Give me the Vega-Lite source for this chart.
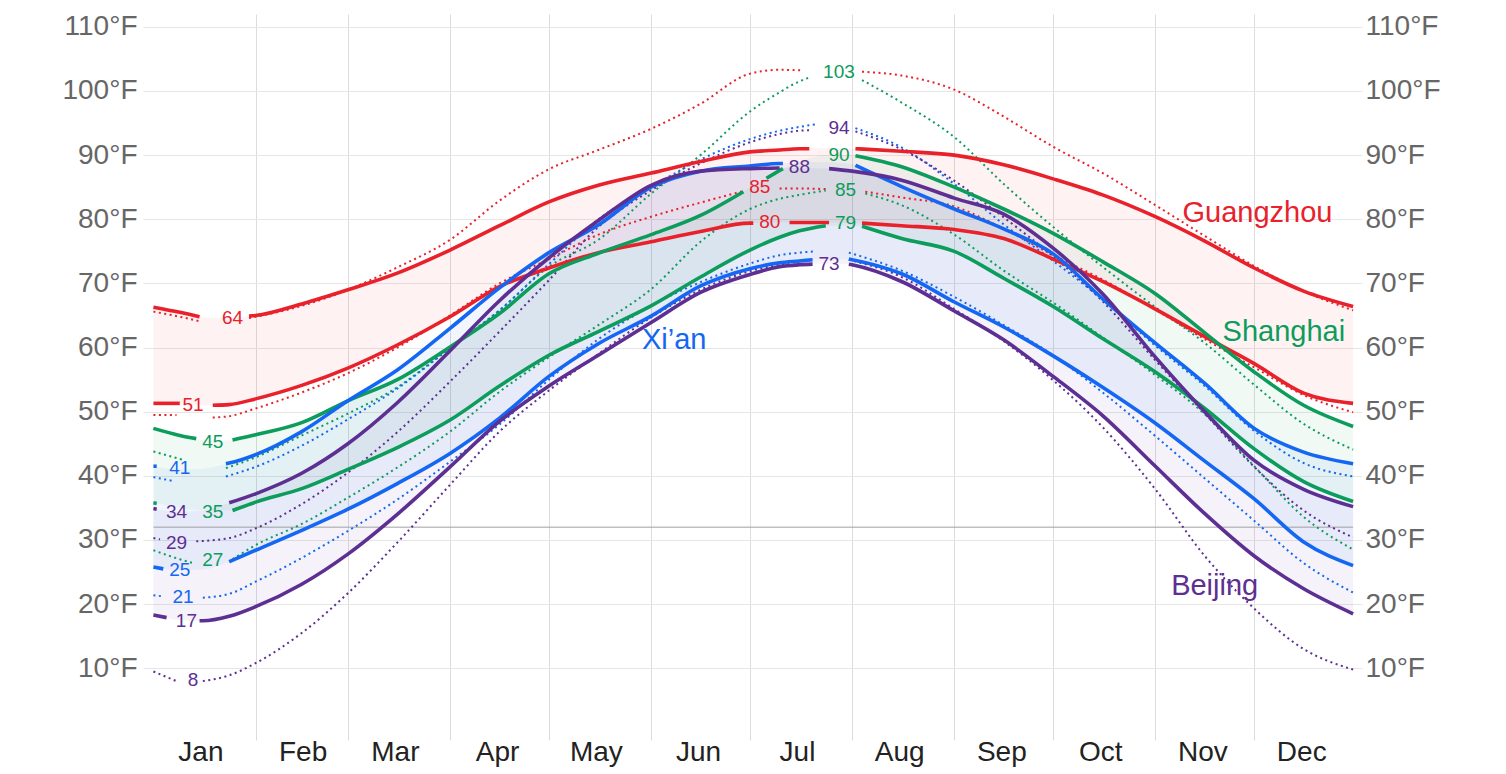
{
  "$schema": "https://vega.github.io/schema/vega-lite/v6.json",
  "width": 1219,
  "height": 726,
  "autosize": {"type": "none"},
  "padding": {"left": 143, "top": 14, "right": 144, "bottom": 34},
  "background": "white",
  "config": {"font": "Liberation Sans", "view": {"stroke": null}},
  "datasets": {
    "temps": [
      {"city":"Guangzhou","kind":"hi","date":"2023-01-01","temp":66.3,"part":1},
      {"city":"Guangzhou","kind":"hi","date":"2023-01-09","temp":65.5,"part":1},
      {"city":"Guangzhou","kind":"hi","date":"2023-01-15","temp":64.8,"part":1},
      {"city":"Guangzhou","kind":"hi","date":"2023-01-16","temp":64.7,"part":0},
      {"city":"Guangzhou","kind":"hi","date":"2023-01-24","temp":64.6,"part":0},
      {"city":"Guangzhou","kind":"hi","date":"2023-01-30","temp":64.9,"part":2},
      {"city":"Guangzhou","kind":"hi","date":"2023-02-01","temp":65.0,"part":2},
      {"city":"Guangzhou","kind":"hi","date":"2023-02-15","temp":66.8,"part":2},
      {"city":"Guangzhou","kind":"hi","date":"2023-03-01","temp":69.0,"part":2},
      {"city":"Guangzhou","kind":"hi","date":"2023-03-16","temp":71.6,"part":2},
      {"city":"Guangzhou","kind":"hi","date":"2023-04-01","temp":75.2,"part":2},
      {"city":"Guangzhou","kind":"hi","date":"2023-04-16","temp":79.0,"part":2},
      {"city":"Guangzhou","kind":"hi","date":"2023-05-01","temp":82.7,"part":2},
      {"city":"Guangzhou","kind":"hi","date":"2023-05-16","temp":85.3,"part":2},
      {"city":"Guangzhou","kind":"hi","date":"2023-06-01","temp":87.2,"part":2},
      {"city":"Guangzhou","kind":"hi","date":"2023-06-16","temp":89.0,"part":2},
      {"city":"Guangzhou","kind":"hi","date":"2023-07-01","temp":90.5,"part":2},
      {"city":"Guangzhou","kind":"hi","date":"2023-07-10","temp":90.8,"part":2},
      {"city":"Guangzhou","kind":"hi","date":"2023-07-16","temp":91.0,"part":2},
      {"city":"Guangzhou","kind":"hi","date":"2023-07-19","temp":91.0,"part":2},
      {"city":"Guangzhou","kind":"hi","date":"2023-07-25","temp":91.1,"part":0},
      {"city":"Guangzhou","kind":"hi","date":"2023-08-01","temp":91.0,"part":0},
      {"city":"Guangzhou","kind":"hi","date":"2023-08-02","temp":91.0,"part":3},
      {"city":"Guangzhou","kind":"hi","date":"2023-08-16","temp":90.6,"part":3},
      {"city":"Guangzhou","kind":"hi","date":"2023-09-01","temp":90.0,"part":3},
      {"city":"Guangzhou","kind":"hi","date":"2023-09-16","temp":88.5,"part":3},
      {"city":"Guangzhou","kind":"hi","date":"2023-10-01","temp":86.3,"part":3},
      {"city":"Guangzhou","kind":"hi","date":"2023-10-16","temp":83.8,"part":3},
      {"city":"Guangzhou","kind":"hi","date":"2023-11-01","temp":80.4,"part":3},
      {"city":"Guangzhou","kind":"hi","date":"2023-11-16","temp":76.6,"part":3},
      {"city":"Guangzhou","kind":"hi","date":"2023-12-01","temp":72.4,"part":3},
      {"city":"Guangzhou","kind":"hi","date":"2023-12-16","temp":68.8,"part":3},
      {"city":"Guangzhou","kind":"hi","date":"2023-12-31","temp":66.4,"part":3},

      {"city":"Guangzhou","kind":"lo","date":"2023-01-01","temp":51.3,"part":1},
      {"city":"Guangzhou","kind":"lo","date":"2023-01-09","temp":51.3,"part":1},
      {"city":"Guangzhou","kind":"lo","date":"2023-01-16","temp":51.0,"part":0},
      {"city":"Guangzhou","kind":"lo","date":"2023-01-19","temp":51.0,"part":2},
      {"city":"Guangzhou","kind":"lo","date":"2023-01-24","temp":51.1,"part":2},
      {"city":"Guangzhou","kind":"lo","date":"2023-02-01","temp":52.0,"part":2},
      {"city":"Guangzhou","kind":"lo","date":"2023-02-15","temp":54.1,"part":2},
      {"city":"Guangzhou","kind":"lo","date":"2023-03-01","temp":56.8,"part":2},
      {"city":"Guangzhou","kind":"lo","date":"2023-03-16","temp":60.4,"part":2},
      {"city":"Guangzhou","kind":"lo","date":"2023-04-01","temp":64.8,"part":2},
      {"city":"Guangzhou","kind":"lo","date":"2023-04-16","temp":69.5,"part":2},
      {"city":"Guangzhou","kind":"lo","date":"2023-05-01","temp":72.4,"part":2},
      {"city":"Guangzhou","kind":"lo","date":"2023-05-16","temp":74.8,"part":2},
      {"city":"Guangzhou","kind":"lo","date":"2023-06-01","temp":76.5,"part":2},
      {"city":"Guangzhou","kind":"lo","date":"2023-06-16","temp":78.1,"part":2},
      {"city":"Guangzhou","kind":"lo","date":"2023-07-01","temp":79.4,"part":2},
      {"city":"Guangzhou","kind":"lo","date":"2023-07-02","temp":79.4,"part":2},
      {"city":"Guangzhou","kind":"lo","date":"2023-07-10","temp":79.5,"part":0},
      {"city":"Guangzhou","kind":"lo","date":"2023-07-13","temp":79.5,"part":3},
      {"city":"Guangzhou","kind":"lo","date":"2023-07-16","temp":79.5,"part":3},
      {"city":"Guangzhou","kind":"lo","date":"2023-07-25","temp":79.5,"part":3},
      {"city":"Guangzhou","kind":"lo","date":"2023-08-01","temp":79.4,"part":0},
      {"city":"Guangzhou","kind":"lo","date":"2023-08-04","temp":79.4,"part":4},
      {"city":"Guangzhou","kind":"lo","date":"2023-08-16","temp":79.0,"part":4},
      {"city":"Guangzhou","kind":"lo","date":"2023-09-01","temp":78.4,"part":4},
      {"city":"Guangzhou","kind":"lo","date":"2023-09-16","temp":77.0,"part":4},
      {"city":"Guangzhou","kind":"lo","date":"2023-10-01","temp":73.8,"part":4},
      {"city":"Guangzhou","kind":"lo","date":"2023-10-16","temp":70.3,"part":4},
      {"city":"Guangzhou","kind":"lo","date":"2023-11-01","temp":66.0,"part":4},
      {"city":"Guangzhou","kind":"lo","date":"2023-11-16","temp":61.7,"part":4},
      {"city":"Guangzhou","kind":"lo","date":"2023-12-01","temp":57.5,"part":4},
      {"city":"Guangzhou","kind":"lo","date":"2023-12-16","temp":52.9,"part":4},
      {"city":"Guangzhou","kind":"lo","date":"2023-12-31","temp":51.3,"part":4},

      {"city":"Guangzhou","kind":"hiF","date":"2023-01-01","temp":65.6,"part":1},
      {"city":"Guangzhou","kind":"hiF","date":"2023-01-09","temp":64.8,"part":1},
      {"city":"Guangzhou","kind":"hiF","date":"2023-01-15","temp":64.1,"part":1},
      {"city":"Guangzhou","kind":"hiF","date":"2023-01-30","temp":64.6,"part":2},
      {"city":"Guangzhou","kind":"hiF","date":"2023-02-01","temp":64.8,"part":2},
      {"city":"Guangzhou","kind":"hiF","date":"2023-02-15","temp":66.5,"part":2},
      {"city":"Guangzhou","kind":"hiF","date":"2023-03-01","temp":69.0,"part":2},
      {"city":"Guangzhou","kind":"hiF","date":"2023-03-16","temp":72.5,"part":2},
      {"city":"Guangzhou","kind":"hiF","date":"2023-04-01","temp":76.8,"part":2},
      {"city":"Guangzhou","kind":"hiF","date":"2023-04-16","temp":82.9,"part":2},
      {"city":"Guangzhou","kind":"hiF","date":"2023-05-01","temp":87.8,"part":2},
      {"city":"Guangzhou","kind":"hiF","date":"2023-05-16","temp":90.8,"part":2},
      {"city":"Guangzhou","kind":"hiF","date":"2023-06-01","temp":94.1,"part":2},
      {"city":"Guangzhou","kind":"hiF","date":"2023-06-16","temp":98.0,"part":2},
      {"city":"Guangzhou","kind":"hiF","date":"2023-07-01","temp":102.7,"part":2},
      {"city":"Guangzhou","kind":"hiF","date":"2023-07-10","temp":103.3,"part":2},
      {"city":"Guangzhou","kind":"hiF","date":"2023-07-17","temp":103.2,"part":2},
      {"city":"Guangzhou","kind":"hiF","date":"2023-08-04","temp":103.0,"part":3},
      {"city":"Guangzhou","kind":"hiF","date":"2023-08-16","temp":102.4,"part":3},
      {"city":"Guangzhou","kind":"hiF","date":"2023-09-01","temp":100.2,"part":3},
      {"city":"Guangzhou","kind":"hiF","date":"2023-09-16","temp":96.0,"part":3},
      {"city":"Guangzhou","kind":"hiF","date":"2023-10-01","temp":91.3,"part":3},
      {"city":"Guangzhou","kind":"hiF","date":"2023-10-16","temp":87.2,"part":3},
      {"city":"Guangzhou","kind":"hiF","date":"2023-11-01","temp":82.2,"part":3},
      {"city":"Guangzhou","kind":"hiF","date":"2023-11-16","temp":77.4,"part":3},
      {"city":"Guangzhou","kind":"hiF","date":"2023-12-01","temp":72.7,"part":3},
      {"city":"Guangzhou","kind":"hiF","date":"2023-12-16","temp":68.8,"part":3},
      {"city":"Guangzhou","kind":"hiF","date":"2023-12-31","temp":65.8,"part":3},

      {"city":"Guangzhou","kind":"loF","date":"2023-01-01","temp":49.5,"part":1},
      {"city":"Guangzhou","kind":"loF","date":"2023-01-08","temp":49.5,"part":1},
      {"city":"Guangzhou","kind":"loF","date":"2023-01-19","temp":49.1,"part":2},
      {"city":"Guangzhou","kind":"loF","date":"2023-01-24","temp":49.3,"part":2},
      {"city":"Guangzhou","kind":"loF","date":"2023-02-01","temp":50.5,"part":2},
      {"city":"Guangzhou","kind":"loF","date":"2023-02-15","temp":53.0,"part":2},
      {"city":"Guangzhou","kind":"loF","date":"2023-03-01","temp":56.0,"part":2},
      {"city":"Guangzhou","kind":"loF","date":"2023-03-16","temp":60.0,"part":2},
      {"city":"Guangzhou","kind":"loF","date":"2023-04-01","temp":65.0,"part":2},
      {"city":"Guangzhou","kind":"loF","date":"2023-04-16","temp":70.0,"part":2},
      {"city":"Guangzhou","kind":"loF","date":"2023-05-01","temp":73.8,"part":2},
      {"city":"Guangzhou","kind":"loF","date":"2023-05-16","temp":77.6,"part":2},
      {"city":"Guangzhou","kind":"loF","date":"2023-06-01","temp":80.4,"part":2},
      {"city":"Guangzhou","kind":"loF","date":"2023-06-16","temp":82.6,"part":2},
      {"city":"Guangzhou","kind":"loF","date":"2023-06-29","temp":84.4,"part":2},
      {"city":"Guangzhou","kind":"loF","date":"2023-07-10","temp":84.8,"part":3},
      {"city":"Guangzhou","kind":"loF","date":"2023-07-16","temp":84.8,"part":3},
      {"city":"Guangzhou","kind":"loF","date":"2023-07-24","temp":84.7,"part":3},
      {"city":"Guangzhou","kind":"loF","date":"2023-08-05","temp":84.3,"part":4},
      {"city":"Guangzhou","kind":"loF","date":"2023-08-16","temp":83.4,"part":4},
      {"city":"Guangzhou","kind":"loF","date":"2023-09-01","temp":82.0,"part":4},
      {"city":"Guangzhou","kind":"loF","date":"2023-09-16","temp":78.5,"part":4},
      {"city":"Guangzhou","kind":"loF","date":"2023-10-01","temp":74.4,"part":4},
      {"city":"Guangzhou","kind":"loF","date":"2023-10-16","temp":70.6,"part":4},
      {"city":"Guangzhou","kind":"loF","date":"2023-11-01","temp":65.9,"part":4},
      {"city":"Guangzhou","kind":"loF","date":"2023-11-16","temp":61.3,"part":4},
      {"city":"Guangzhou","kind":"loF","date":"2023-12-01","temp":56.9,"part":4},
      {"city":"Guangzhou","kind":"loF","date":"2023-12-16","temp":52.6,"part":4},
      {"city":"Guangzhou","kind":"loF","date":"2023-12-31","temp":49.9,"part":4},

      {"city":"Shanghai","kind":"hi","date":"2023-01-01","temp":47.4,"part":1},
      {"city":"Shanghai","kind":"hi","date":"2023-01-09","temp":46.3,"part":1},
      {"city":"Shanghai","kind":"hi","date":"2023-01-14","temp":45.8,"part":1},
      {"city":"Shanghai","kind":"hi","date":"2023-01-16","temp":45.6,"part":0},
      {"city":"Shanghai","kind":"hi","date":"2023-01-24","temp":45.5,"part":0},
      {"city":"Shanghai","kind":"hi","date":"2023-01-25","temp":45.6,"part":2},
      {"city":"Shanghai","kind":"hi","date":"2023-02-01","temp":46.4,"part":2},
      {"city":"Shanghai","kind":"hi","date":"2023-02-15","temp":48.3,"part":2},
      {"city":"Shanghai","kind":"hi","date":"2023-03-01","temp":51.7,"part":2},
      {"city":"Shanghai","kind":"hi","date":"2023-03-16","temp":55.0,"part":2},
      {"city":"Shanghai","kind":"hi","date":"2023-04-01","temp":60.1,"part":2},
      {"city":"Shanghai","kind":"hi","date":"2023-04-16","temp":65.3,"part":2},
      {"city":"Shanghai","kind":"hi","date":"2023-05-01","temp":71.5,"part":2},
      {"city":"Shanghai","kind":"hi","date":"2023-05-16","temp":74.7,"part":2},
      {"city":"Shanghai","kind":"hi","date":"2023-06-01","temp":77.6,"part":2},
      {"city":"Shanghai","kind":"hi","date":"2023-06-16","temp":80.6,"part":2},
      {"city":"Shanghai","kind":"hi","date":"2023-06-29","temp":84.3,"part":2},
      {"city":"Shanghai","kind":"hi","date":"2023-07-01","temp":84.9,"part":0},
      {"city":"Shanghai","kind":"hi","date":"2023-07-06","temp":86.4,"part":3},
      {"city":"Shanghai","kind":"hi","date":"2023-07-10","temp":87.6,"part":3},
      {"city":"Shanghai","kind":"hi","date":"2023-07-11","temp":87.9,"part":3},
      {"city":"Shanghai","kind":"hi","date":"2023-07-16","temp":89.0,"part":0},
      {"city":"Shanghai","kind":"hi","date":"2023-07-25","temp":90.0,"part":0},
      {"city":"Shanghai","kind":"hi","date":"2023-08-01","temp":90.0,"part":0},
      {"city":"Shanghai","kind":"hi","date":"2023-08-02","temp":89.9,"part":4},
      {"city":"Shanghai","kind":"hi","date":"2023-08-16","temp":88.2,"part":4},
      {"city":"Shanghai","kind":"hi","date":"2023-09-01","temp":85.0,"part":4},
      {"city":"Shanghai","kind":"hi","date":"2023-09-16","temp":81.6,"part":4},
      {"city":"Shanghai","kind":"hi","date":"2023-10-01","temp":77.8,"part":4},
      {"city":"Shanghai","kind":"hi","date":"2023-10-16","temp":73.4,"part":4},
      {"city":"Shanghai","kind":"hi","date":"2023-11-01","temp":68.4,"part":4},
      {"city":"Shanghai","kind":"hi","date":"2023-11-16","temp":62.3,"part":4},
      {"city":"Shanghai","kind":"hi","date":"2023-12-01","temp":56.2,"part":4},
      {"city":"Shanghai","kind":"hi","date":"2023-12-16","temp":51.0,"part":4},
      {"city":"Shanghai","kind":"hi","date":"2023-12-31","temp":47.7,"part":4},

      {"city":"Shanghai","kind":"lo","date":"2023-01-01","temp":35.8,"part":1},
      {"city":"Shanghai","kind":"lo","date":"2023-01-02","temp":35.7,"part":1},
      {"city":"Shanghai","kind":"lo","date":"2023-01-09","temp":35.0,"part":0},
      {"city":"Shanghai","kind":"lo","date":"2023-01-16","temp":34.6,"part":0},
      {"city":"Shanghai","kind":"lo","date":"2023-01-24","temp":34.6,"part":0},
      {"city":"Shanghai","kind":"lo","date":"2023-01-25","temp":34.6,"part":2},
      {"city":"Shanghai","kind":"lo","date":"2023-02-01","temp":35.9,"part":2},
      {"city":"Shanghai","kind":"lo","date":"2023-02-15","temp":38.0,"part":2},
      {"city":"Shanghai","kind":"lo","date":"2023-03-01","temp":41.0,"part":2},
      {"city":"Shanghai","kind":"lo","date":"2023-03-16","temp":44.4,"part":2},
      {"city":"Shanghai","kind":"lo","date":"2023-04-01","temp":48.7,"part":2},
      {"city":"Shanghai","kind":"lo","date":"2023-04-16","temp":54.0,"part":2},
      {"city":"Shanghai","kind":"lo","date":"2023-05-01","temp":58.8,"part":2},
      {"city":"Shanghai","kind":"lo","date":"2023-05-16","temp":62.5,"part":2},
      {"city":"Shanghai","kind":"lo","date":"2023-06-01","temp":66.5,"part":2},
      {"city":"Shanghai","kind":"lo","date":"2023-06-16","temp":71.0,"part":2},
      {"city":"Shanghai","kind":"lo","date":"2023-07-01","temp":75.2,"part":2},
      {"city":"Shanghai","kind":"lo","date":"2023-07-10","temp":77.2,"part":2},
      {"city":"Shanghai","kind":"lo","date":"2023-07-16","temp":78.2,"part":2},
      {"city":"Shanghai","kind":"lo","date":"2023-07-24","temp":79.0,"part":2},
      {"city":"Shanghai","kind":"lo","date":"2023-07-25","temp":79.0,"part":0},
      {"city":"Shanghai","kind":"lo","date":"2023-08-01","temp":79.0,"part":0},
      {"city":"Shanghai","kind":"lo","date":"2023-08-04","temp":78.9,"part":3},
      {"city":"Shanghai","kind":"lo","date":"2023-08-16","temp":77.0,"part":3},
      {"city":"Shanghai","kind":"lo","date":"2023-09-01","temp":75.0,"part":3},
      {"city":"Shanghai","kind":"lo","date":"2023-09-16","temp":70.8,"part":3},
      {"city":"Shanghai","kind":"lo","date":"2023-10-01","temp":66.4,"part":3},
      {"city":"Shanghai","kind":"lo","date":"2023-10-16","temp":61.4,"part":3},
      {"city":"Shanghai","kind":"lo","date":"2023-11-01","temp":56.2,"part":3},
      {"city":"Shanghai","kind":"lo","date":"2023-11-16","temp":50.5,"part":3},
      {"city":"Shanghai","kind":"lo","date":"2023-12-01","temp":44.2,"part":3},
      {"city":"Shanghai","kind":"lo","date":"2023-12-16","temp":39.1,"part":3},
      {"city":"Shanghai","kind":"lo","date":"2023-12-31","temp":36.0,"part":3},

      {"city":"Shanghai","kind":"hiF","date":"2023-01-01","temp":43.8,"part":1},
      {"city":"Shanghai","kind":"hiF","date":"2023-01-10","temp":42.5,"part":1},
      {"city":"Shanghai","kind":"hiF","date":"2023-01-23","temp":41.2,"part":2},
      {"city":"Shanghai","kind":"hiF","date":"2023-02-01","temp":42.9,"part":2},
      {"city":"Shanghai","kind":"hiF","date":"2023-02-15","temp":46.3,"part":2},
      {"city":"Shanghai","kind":"hiF","date":"2023-03-01","temp":49.7,"part":2},
      {"city":"Shanghai","kind":"hiF","date":"2023-03-16","temp":53.8,"part":2},
      {"city":"Shanghai","kind":"hiF","date":"2023-04-01","temp":60.0,"part":2},
      {"city":"Shanghai","kind":"hiF","date":"2023-04-16","temp":65.8,"part":2},
      {"city":"Shanghai","kind":"hiF","date":"2023-05-01","temp":72.6,"part":2},
      {"city":"Shanghai","kind":"hiF","date":"2023-05-16","temp":76.8,"part":2},
      {"city":"Shanghai","kind":"hiF","date":"2023-06-01","temp":84.0,"part":2},
      {"city":"Shanghai","kind":"hiF","date":"2023-06-16","temp":90.0,"part":2},
      {"city":"Shanghai","kind":"hiF","date":"2023-07-01","temp":96.8,"part":2},
      {"city":"Shanghai","kind":"hiF","date":"2023-07-10","temp":99.8,"part":2},
      {"city":"Shanghai","kind":"hiF","date":"2023-07-16","temp":101.5,"part":2},
      {"city":"Shanghai","kind":"hiF","date":"2023-07-19","temp":102.1,"part":2},
      {"city":"Shanghai","kind":"hiF","date":"2023-08-04","temp":101.7,"part":3},
      {"city":"Shanghai","kind":"hiF","date":"2023-08-16","temp":98.2,"part":3},
      {"city":"Shanghai","kind":"hiF","date":"2023-09-01","temp":92.8,"part":3},
      {"city":"Shanghai","kind":"hiF","date":"2023-09-16","temp":85.5,"part":3},
      {"city":"Shanghai","kind":"hiF","date":"2023-10-01","temp":78.8,"part":3},
      {"city":"Shanghai","kind":"hiF","date":"2023-10-16","temp":72.6,"part":3},
      {"city":"Shanghai","kind":"hiF","date":"2023-11-01","temp":66.3,"part":3},
      {"city":"Shanghai","kind":"hiF","date":"2023-11-16","temp":60.7,"part":3},
      {"city":"Shanghai","kind":"hiF","date":"2023-12-01","temp":54.2,"part":3},
      {"city":"Shanghai","kind":"hiF","date":"2023-12-16","temp":48.1,"part":3},
      {"city":"Shanghai","kind":"hiF","date":"2023-12-31","temp":44.1,"part":3},

      {"city":"Shanghai","kind":"loF","date":"2023-01-01","temp":28.4,"part":1},
      {"city":"Shanghai","kind":"loF","date":"2023-01-09","temp":27.0,"part":1},
      {"city":"Shanghai","kind":"loF","date":"2023-01-13","temp":26.4,"part":1},
      {"city":"Shanghai","kind":"loF","date":"2023-01-25","temp":27.0,"part":2},
      {"city":"Shanghai","kind":"loF","date":"2023-02-01","temp":29.2,"part":2},
      {"city":"Shanghai","kind":"loF","date":"2023-02-15","temp":32.5,"part":2},
      {"city":"Shanghai","kind":"loF","date":"2023-03-01","temp":36.6,"part":2},
      {"city":"Shanghai","kind":"loF","date":"2023-03-16","temp":41.3,"part":2},
      {"city":"Shanghai","kind":"loF","date":"2023-04-01","temp":46.9,"part":2},
      {"city":"Shanghai","kind":"loF","date":"2023-04-16","temp":53.1,"part":2},
      {"city":"Shanghai","kind":"loF","date":"2023-05-01","temp":58.5,"part":2},
      {"city":"Shanghai","kind":"loF","date":"2023-05-16","temp":63.5,"part":2},
      {"city":"Shanghai","kind":"loF","date":"2023-06-01","temp":69.1,"part":2},
      {"city":"Shanghai","kind":"loF","date":"2023-06-16","temp":76.5,"part":2},
      {"city":"Shanghai","kind":"loF","date":"2023-07-01","temp":81.6,"part":2},
      {"city":"Shanghai","kind":"loF","date":"2023-07-10","temp":83.2,"part":2},
      {"city":"Shanghai","kind":"loF","date":"2023-07-16","temp":83.8,"part":2},
      {"city":"Shanghai","kind":"loF","date":"2023-07-24","temp":84.5,"part":2},
      {"city":"Shanghai","kind":"loF","date":"2023-08-05","temp":84.0,"part":3},
      {"city":"Shanghai","kind":"loF","date":"2023-08-16","temp":82.2,"part":3},
      {"city":"Shanghai","kind":"loF","date":"2023-09-01","temp":77.6,"part":3},
      {"city":"Shanghai","kind":"loF","date":"2023-09-16","temp":72.0,"part":3},
      {"city":"Shanghai","kind":"loF","date":"2023-10-01","temp":67.0,"part":3},
      {"city":"Shanghai","kind":"loF","date":"2023-10-16","temp":61.6,"part":3},
      {"city":"Shanghai","kind":"loF","date":"2023-11-01","temp":55.7,"part":3},
      {"city":"Shanghai","kind":"loF","date":"2023-11-16","temp":49.6,"part":3},
      {"city":"Shanghai","kind":"loF","date":"2023-12-01","temp":41.5,"part":3},
      {"city":"Shanghai","kind":"loF","date":"2023-12-16","temp":33.6,"part":3},
      {"city":"Shanghai","kind":"loF","date":"2023-12-31","temp":28.5,"part":3},

      {"city":"Xi'an","kind":"hi","date":"2023-01-01","temp":41.5,"part":1},
      {"city":"Xi'an","kind":"hi","date":"2023-01-02","temp":41.5,"part":1},
      {"city":"Xi'an","kind":"hi","date":"2023-01-09","temp":41.0,"part":0},
      {"city":"Xi'an","kind":"hi","date":"2023-01-16","temp":41.1,"part":0},
      {"city":"Xi'an","kind":"hi","date":"2023-01-23","temp":41.9,"part":2},
      {"city":"Xi'an","kind":"hi","date":"2023-01-24","temp":42.0,"part":2},
      {"city":"Xi'an","kind":"hi","date":"2023-02-01","temp":43.3,"part":2},
      {"city":"Xi'an","kind":"hi","date":"2023-02-15","temp":46.9,"part":2},
      {"city":"Xi'an","kind":"hi","date":"2023-03-01","temp":51.7,"part":2},
      {"city":"Xi'an","kind":"hi","date":"2023-03-16","temp":56.5,"part":2},
      {"city":"Xi'an","kind":"hi","date":"2023-04-01","temp":63.0,"part":2},
      {"city":"Xi'an","kind":"hi","date":"2023-04-16","temp":69.3,"part":2},
      {"city":"Xi'an","kind":"hi","date":"2023-05-01","temp":74.8,"part":2},
      {"city":"Xi'an","kind":"hi","date":"2023-05-16","temp":79.1,"part":2},
      {"city":"Xi'an","kind":"hi","date":"2023-06-01","temp":85.0,"part":2},
      {"city":"Xi'an","kind":"hi","date":"2023-06-16","temp":87.5,"part":2},
      {"city":"Xi'an","kind":"hi","date":"2023-07-01","temp":88.3,"part":2},
      {"city":"Xi'an","kind":"hi","date":"2023-07-10","temp":88.7,"part":2},
      {"city":"Xi'an","kind":"hi","date":"2023-07-11","temp":88.7,"part":2},
      {"city":"Xi'an","kind":"hi","date":"2023-07-16","temp":88.9,"part":0},
      {"city":"Xi'an","kind":"hi","date":"2023-07-25","temp":88.9,"part":0},
      {"city":"Xi'an","kind":"hi","date":"2023-08-01","temp":88.6,"part":0},
      {"city":"Xi'an","kind":"hi","date":"2023-08-02","temp":88.4,"part":3},
      {"city":"Xi'an","kind":"hi","date":"2023-08-16","temp":85.1,"part":3},
      {"city":"Xi'an","kind":"hi","date":"2023-09-01","temp":81.6,"part":3},
      {"city":"Xi'an","kind":"hi","date":"2023-09-16","temp":78.5,"part":3},
      {"city":"Xi'an","kind":"hi","date":"2023-10-01","temp":74.6,"part":3},
      {"city":"Xi'an","kind":"hi","date":"2023-10-16","temp":67.6,"part":3},
      {"city":"Xi'an","kind":"hi","date":"2023-11-01","temp":60.7,"part":3},
      {"city":"Xi'an","kind":"hi","date":"2023-11-16","temp":54.4,"part":3},
      {"city":"Xi'an","kind":"hi","date":"2023-12-01","temp":47.4,"part":3},
      {"city":"Xi'an","kind":"hi","date":"2023-12-16","temp":43.7,"part":3},
      {"city":"Xi'an","kind":"hi","date":"2023-12-31","temp":41.9,"part":3},

      {"city":"Xi'an","kind":"lo","date":"2023-01-01","temp":25.8,"part":1},
      {"city":"Xi'an","kind":"lo","date":"2023-01-04","temp":25.5,"part":1},
      {"city":"Xi'an","kind":"lo","date":"2023-01-09","temp":25.3,"part":0},
      {"city":"Xi'an","kind":"lo","date":"2023-01-16","temp":25.4,"part":0},
      {"city":"Xi'an","kind":"lo","date":"2023-01-24","temp":26.6,"part":2},
      {"city":"Xi'an","kind":"lo","date":"2023-02-01","temp":28.4,"part":2},
      {"city":"Xi'an","kind":"lo","date":"2023-02-15","temp":31.5,"part":2},
      {"city":"Xi'an","kind":"lo","date":"2023-03-01","temp":34.8,"part":2},
      {"city":"Xi'an","kind":"lo","date":"2023-03-16","temp":38.8,"part":2},
      {"city":"Xi'an","kind":"lo","date":"2023-04-01","temp":43.5,"part":2},
      {"city":"Xi'an","kind":"lo","date":"2023-04-16","temp":49.0,"part":2},
      {"city":"Xi'an","kind":"lo","date":"2023-05-01","temp":55.5,"part":2},
      {"city":"Xi'an","kind":"lo","date":"2023-05-16","temp":60.6,"part":2},
      {"city":"Xi'an","kind":"lo","date":"2023-06-01","temp":64.9,"part":2},
      {"city":"Xi'an","kind":"lo","date":"2023-06-16","temp":69.6,"part":2},
      {"city":"Xi'an","kind":"lo","date":"2023-07-01","temp":72.3,"part":2},
      {"city":"Xi'an","kind":"lo","date":"2023-07-10","temp":73.2,"part":2},
      {"city":"Xi'an","kind":"lo","date":"2023-07-16","temp":73.5,"part":2},
      {"city":"Xi'an","kind":"lo","date":"2023-07-20","temp":73.7,"part":2},
      {"city":"Xi'an","kind":"lo","date":"2023-07-25","temp":73.8,"part":0},
      {"city":"Xi'an","kind":"lo","date":"2023-07-31","temp":73.8,"part":3},
      {"city":"Xi'an","kind":"lo","date":"2023-08-01","temp":73.7,"part":3},
      {"city":"Xi'an","kind":"lo","date":"2023-08-16","temp":71.5,"part":3},
      {"city":"Xi'an","kind":"lo","date":"2023-09-01","temp":67.1,"part":3},
      {"city":"Xi'an","kind":"lo","date":"2023-09-16","temp":63.2,"part":3},
      {"city":"Xi'an","kind":"lo","date":"2023-10-01","temp":58.7,"part":3},
      {"city":"Xi'an","kind":"lo","date":"2023-10-16","temp":53.8,"part":3},
      {"city":"Xi'an","kind":"lo","date":"2023-11-01","temp":48.2,"part":3},
      {"city":"Xi'an","kind":"lo","date":"2023-11-16","temp":42.3,"part":3},
      {"city":"Xi'an","kind":"lo","date":"2023-12-01","temp":36.4,"part":3},
      {"city":"Xi'an","kind":"lo","date":"2023-12-16","temp":29.7,"part":3},
      {"city":"Xi'an","kind":"lo","date":"2023-12-31","temp":26.0,"part":3},

      {"city":"Xi'an","kind":"hiF","date":"2023-01-01","temp":39.8,"part":1},
      {"city":"Xi'an","kind":"hiF","date":"2023-01-07","temp":39.2,"part":1},
      {"city":"Xi'an","kind":"hiF","date":"2023-01-23","temp":39.9,"part":2},
      {"city":"Xi'an","kind":"hiF","date":"2023-02-01","temp":41.4,"part":2},
      {"city":"Xi'an","kind":"hiF","date":"2023-02-15","temp":44.7,"part":2},
      {"city":"Xi'an","kind":"hiF","date":"2023-03-01","temp":48.8,"part":2},
      {"city":"Xi'an","kind":"hiF","date":"2023-03-16","temp":53.6,"part":2},
      {"city":"Xi'an","kind":"hiF","date":"2023-04-01","temp":59.9,"part":2},
      {"city":"Xi'an","kind":"hiF","date":"2023-04-16","temp":65.8,"part":2},
      {"city":"Xi'an","kind":"hiF","date":"2023-05-01","temp":73.0,"part":2},
      {"city":"Xi'an","kind":"hiF","date":"2023-05-16","temp":80.0,"part":2},
      {"city":"Xi'an","kind":"hiF","date":"2023-06-01","temp":85.0,"part":2},
      {"city":"Xi'an","kind":"hiF","date":"2023-06-16","temp":89.3,"part":2},
      {"city":"Xi'an","kind":"hiF","date":"2023-07-01","temp":92.5,"part":2},
      {"city":"Xi'an","kind":"hiF","date":"2023-07-10","temp":93.8,"part":2},
      {"city":"Xi'an","kind":"hiF","date":"2023-07-16","temp":94.4,"part":2},
      {"city":"Xi'an","kind":"hiF","date":"2023-07-21","temp":94.8,"part":2},
      {"city":"Xi'an","kind":"hiF","date":"2023-08-02","temp":94.2,"part":3},
      {"city":"Xi'an","kind":"hiF","date":"2023-08-16","temp":91.2,"part":3},
      {"city":"Xi'an","kind":"hiF","date":"2023-09-01","temp":85.5,"part":3},
      {"city":"Xi'an","kind":"hiF","date":"2023-09-16","temp":79.2,"part":3},
      {"city":"Xi'an","kind":"hiF","date":"2023-10-01","temp":73.5,"part":3},
      {"city":"Xi'an","kind":"hiF","date":"2023-10-16","temp":67.5,"part":3},
      {"city":"Xi'an","kind":"hiF","date":"2023-11-01","temp":60.3,"part":3},
      {"city":"Xi'an","kind":"hiF","date":"2023-11-16","temp":54.0,"part":3},
      {"city":"Xi'an","kind":"hiF","date":"2023-12-01","temp":47.0,"part":3},
      {"city":"Xi'an","kind":"hiF","date":"2023-12-16","temp":42.0,"part":3},
      {"city":"Xi'an","kind":"hiF","date":"2023-12-31","temp":39.9,"part":3},

      {"city":"Xi'an","kind":"loF","date":"2023-01-01","temp":21.4,"part":1},
      {"city":"Xi'an","kind":"loF","date":"2023-01-04","temp":21.2,"part":1},
      {"city":"Xi'an","kind":"loF","date":"2023-01-16","temp":21.0,"part":2},
      {"city":"Xi'an","kind":"loF","date":"2023-01-24","temp":21.6,"part":2},
      {"city":"Xi'an","kind":"loF","date":"2023-02-01","temp":23.5,"part":2},
      {"city":"Xi'an","kind":"loF","date":"2023-02-15","temp":27.2,"part":2},
      {"city":"Xi'an","kind":"loF","date":"2023-03-01","temp":31.4,"part":2},
      {"city":"Xi'an","kind":"loF","date":"2023-03-16","temp":36.3,"part":2},
      {"city":"Xi'an","kind":"loF","date":"2023-04-01","temp":42.2,"part":2},
      {"city":"Xi'an","kind":"loF","date":"2023-04-16","temp":48.0,"part":2},
      {"city":"Xi'an","kind":"loF","date":"2023-05-01","temp":55.0,"part":2},
      {"city":"Xi'an","kind":"loF","date":"2023-05-16","temp":61.3,"part":2},
      {"city":"Xi'an","kind":"loF","date":"2023-06-01","temp":66.5,"part":2},
      {"city":"Xi'an","kind":"loF","date":"2023-06-16","temp":70.2,"part":2},
      {"city":"Xi'an","kind":"loF","date":"2023-07-01","temp":73.1,"part":2},
      {"city":"Xi'an","kind":"loF","date":"2023-07-10","temp":74.4,"part":2},
      {"city":"Xi'an","kind":"loF","date":"2023-07-16","temp":74.8,"part":2},
      {"city":"Xi'an","kind":"loF","date":"2023-07-21","temp":75.0,"part":2},
      {"city":"Xi'an","kind":"loF","date":"2023-07-31","temp":74.8,"part":3},
      {"city":"Xi'an","kind":"loF","date":"2023-08-16","temp":72.0,"part":3},
      {"city":"Xi'an","kind":"loF","date":"2023-09-01","temp":67.9,"part":3},
      {"city":"Xi'an","kind":"loF","date":"2023-09-16","temp":63.5,"part":3},
      {"city":"Xi'an","kind":"loF","date":"2023-10-01","temp":58.8,"part":3},
      {"city":"Xi'an","kind":"loF","date":"2023-10-16","temp":53.0,"part":3},
      {"city":"Xi'an","kind":"loF","date":"2023-11-01","temp":46.2,"part":3},
      {"city":"Xi'an","kind":"loF","date":"2023-11-16","temp":39.6,"part":3},
      {"city":"Xi'an","kind":"loF","date":"2023-12-01","temp":33.0,"part":3},
      {"city":"Xi'an","kind":"loF","date":"2023-12-16","temp":26.4,"part":3},
      {"city":"Xi'an","kind":"loF","date":"2023-12-31","temp":21.8,"part":3},

      {"city":"Beijing","kind":"hi","date":"2023-01-01","temp":34.9,"part":1},
      {"city":"Beijing","kind":"hi","date":"2023-01-02","temp":34.8,"part":1},
      {"city":"Beijing","kind":"hi","date":"2023-01-09","temp":34.4,"part":0},
      {"city":"Beijing","kind":"hi","date":"2023-01-16","temp":34.6,"part":0},
      {"city":"Beijing","kind":"hi","date":"2023-01-24","temp":35.8,"part":2},
      {"city":"Beijing","kind":"hi","date":"2023-02-01","temp":37.2,"part":2},
      {"city":"Beijing","kind":"hi","date":"2023-02-15","temp":40.4,"part":2},
      {"city":"Beijing","kind":"hi","date":"2023-03-01","temp":45.0,"part":2},
      {"city":"Beijing","kind":"hi","date":"2023-03-16","temp":51.4,"part":2},
      {"city":"Beijing","kind":"hi","date":"2023-04-01","temp":59.5,"part":2},
      {"city":"Beijing","kind":"hi","date":"2023-04-16","temp":67.3,"part":2},
      {"city":"Beijing","kind":"hi","date":"2023-05-01","temp":74.0,"part":2},
      {"city":"Beijing","kind":"hi","date":"2023-05-16","temp":79.8,"part":2},
      {"city":"Beijing","kind":"hi","date":"2023-06-01","temp":85.3,"part":2},
      {"city":"Beijing","kind":"hi","date":"2023-06-16","temp":87.5,"part":2},
      {"city":"Beijing","kind":"hi","date":"2023-07-01","temp":87.9,"part":2},
      {"city":"Beijing","kind":"hi","date":"2023-07-10","temp":88.0,"part":2},
      {"city":"Beijing","kind":"hi","date":"2023-07-16","temp":88.0,"part":0},
      {"city":"Beijing","kind":"hi","date":"2023-07-25","temp":87.9,"part":3},
      {"city":"Beijing","kind":"hi","date":"2023-08-01","temp":87.5,"part":3},
      {"city":"Beijing","kind":"hi","date":"2023-08-16","temp":86.1,"part":3},
      {"city":"Beijing","kind":"hi","date":"2023-09-01","temp":83.3,"part":3},
      {"city":"Beijing","kind":"hi","date":"2023-09-16","temp":80.8,"part":3},
      {"city":"Beijing","kind":"hi","date":"2023-10-01","temp":75.5,"part":3},
      {"city":"Beijing","kind":"hi","date":"2023-10-16","temp":68.4,"part":3},
      {"city":"Beijing","kind":"hi","date":"2023-11-01","temp":58.5,"part":3},
      {"city":"Beijing","kind":"hi","date":"2023-11-16","temp":50.0,"part":3},
      {"city":"Beijing","kind":"hi","date":"2023-12-01","temp":42.4,"part":3},
      {"city":"Beijing","kind":"hi","date":"2023-12-16","temp":37.9,"part":3},
      {"city":"Beijing","kind":"hi","date":"2023-12-31","temp":35.2,"part":3},

      {"city":"Beijing","kind":"lo","date":"2023-01-01","temp":18.3,"part":1},
      {"city":"Beijing","kind":"lo","date":"2023-01-05","temp":17.9,"part":1},
      {"city":"Beijing","kind":"lo","date":"2023-01-09","temp":17.5,"part":0},
      {"city":"Beijing","kind":"lo","date":"2023-01-15","temp":17.4,"part":2},
      {"city":"Beijing","kind":"lo","date":"2023-01-16","temp":17.4,"part":2},
      {"city":"Beijing","kind":"lo","date":"2023-01-24","temp":18.1,"part":2},
      {"city":"Beijing","kind":"lo","date":"2023-02-01","temp":19.6,"part":2},
      {"city":"Beijing","kind":"lo","date":"2023-02-15","temp":23.1,"part":2},
      {"city":"Beijing","kind":"lo","date":"2023-03-01","temp":27.8,"part":2},
      {"city":"Beijing","kind":"lo","date":"2023-03-16","temp":34.0,"part":2},
      {"city":"Beijing","kind":"lo","date":"2023-04-01","temp":41.4,"part":2},
      {"city":"Beijing","kind":"lo","date":"2023-04-16","temp":48.5,"part":2},
      {"city":"Beijing","kind":"lo","date":"2023-05-01","temp":54.0,"part":2},
      {"city":"Beijing","kind":"lo","date":"2023-05-16","temp":58.8,"part":2},
      {"city":"Beijing","kind":"lo","date":"2023-06-01","temp":63.9,"part":2},
      {"city":"Beijing","kind":"lo","date":"2023-06-16","temp":68.6,"part":2},
      {"city":"Beijing","kind":"lo","date":"2023-07-01","temp":71.4,"part":2},
      {"city":"Beijing","kind":"lo","date":"2023-07-10","temp":72.6,"part":2},
      {"city":"Beijing","kind":"lo","date":"2023-07-16","temp":72.9,"part":2},
      {"city":"Beijing","kind":"lo","date":"2023-07-20","temp":73.0,"part":2},
      {"city":"Beijing","kind":"lo","date":"2023-07-25","temp":73.1,"part":0},
      {"city":"Beijing","kind":"lo","date":"2023-07-31","temp":73.0,"part":3},
      {"city":"Beijing","kind":"lo","date":"2023-08-01","temp":72.9,"part":3},
      {"city":"Beijing","kind":"lo","date":"2023-08-16","temp":70.3,"part":3},
      {"city":"Beijing","kind":"lo","date":"2023-09-01","temp":65.7,"part":3},
      {"city":"Beijing","kind":"lo","date":"2023-09-16","temp":61.2,"part":3},
      {"city":"Beijing","kind":"lo","date":"2023-10-01","temp":55.5,"part":3},
      {"city":"Beijing","kind":"lo","date":"2023-10-16","temp":49.4,"part":3},
      {"city":"Beijing","kind":"lo","date":"2023-11-01","temp":41.5,"part":3},
      {"city":"Beijing","kind":"lo","date":"2023-11-16","temp":34.1,"part":3},
      {"city":"Beijing","kind":"lo","date":"2023-12-01","temp":27.5,"part":3},
      {"city":"Beijing","kind":"lo","date":"2023-12-16","temp":22.4,"part":3},
      {"city":"Beijing","kind":"lo","date":"2023-12-31","temp":18.5,"part":3},

      {"city":"Beijing","kind":"hiF","date":"2023-01-01","temp":30.3,"part":1},
      {"city":"Beijing","kind":"hiF","date":"2023-01-03","temp":30.1,"part":1},
      {"city":"Beijing","kind":"hiF","date":"2023-01-14","temp":29.8,"part":2},
      {"city":"Beijing","kind":"hiF","date":"2023-01-24","temp":30.3,"part":2},
      {"city":"Beijing","kind":"hiF","date":"2023-02-01","temp":31.8,"part":2},
      {"city":"Beijing","kind":"hiF","date":"2023-02-15","temp":35.6,"part":2},
      {"city":"Beijing","kind":"hiF","date":"2023-03-01","temp":40.5,"part":2},
      {"city":"Beijing","kind":"hiF","date":"2023-03-16","temp":46.8,"part":2},
      {"city":"Beijing","kind":"hiF","date":"2023-04-01","temp":54.7,"part":2},
      {"city":"Beijing","kind":"hiF","date":"2023-04-16","temp":62.5,"part":2},
      {"city":"Beijing","kind":"hiF","date":"2023-05-01","temp":70.5,"part":2},
      {"city":"Beijing","kind":"hiF","date":"2023-05-16","temp":78.8,"part":2},
      {"city":"Beijing","kind":"hiF","date":"2023-06-01","temp":84.5,"part":2},
      {"city":"Beijing","kind":"hiF","date":"2023-06-16","temp":88.7,"part":2},
      {"city":"Beijing","kind":"hiF","date":"2023-07-01","temp":92.0,"part":2},
      {"city":"Beijing","kind":"hiF","date":"2023-07-10","temp":93.3,"part":2},
      {"city":"Beijing","kind":"hiF","date":"2023-07-16","temp":93.8,"part":2},
      {"city":"Beijing","kind":"hiF","date":"2023-07-20","temp":93.9,"part":2},
      {"city":"Beijing","kind":"hiF","date":"2023-08-02","temp":93.7,"part":3},
      {"city":"Beijing","kind":"hiF","date":"2023-08-16","temp":90.9,"part":3},
      {"city":"Beijing","kind":"hiF","date":"2023-09-01","temp":86.0,"part":3},
      {"city":"Beijing","kind":"hiF","date":"2023-09-16","temp":80.3,"part":3},
      {"city":"Beijing","kind":"hiF","date":"2023-10-01","temp":74.2,"part":3},
      {"city":"Beijing","kind":"hiF","date":"2023-10-16","temp":67.2,"part":3},
      {"city":"Beijing","kind":"hiF","date":"2023-11-01","temp":58.0,"part":3},
      {"city":"Beijing","kind":"hiF","date":"2023-11-16","temp":49.7,"part":3},
      {"city":"Beijing","kind":"hiF","date":"2023-12-01","temp":41.4,"part":3},
      {"city":"Beijing","kind":"hiF","date":"2023-12-16","temp":34.6,"part":3},
      {"city":"Beijing","kind":"hiF","date":"2023-12-31","temp":30.4,"part":3},

      {"city":"Beijing","kind":"loF","date":"2023-01-01","temp":9.5,"part":1},
      {"city":"Beijing","kind":"loF","date":"2023-01-08","temp":8.0,"part":1},
      {"city":"Beijing","kind":"loF","date":"2023-01-16","temp":8.0,"part":2},
      {"city":"Beijing","kind":"loF","date":"2023-01-24","temp":8.9,"part":2},
      {"city":"Beijing","kind":"loF","date":"2023-02-01","temp":10.8,"part":2},
      {"city":"Beijing","kind":"loF","date":"2023-02-15","temp":15.5,"part":2},
      {"city":"Beijing","kind":"loF","date":"2023-03-01","temp":21.7,"part":2},
      {"city":"Beijing","kind":"loF","date":"2023-03-16","temp":29.6,"part":2},
      {"city":"Beijing","kind":"loF","date":"2023-04-01","temp":38.6,"part":2},
      {"city":"Beijing","kind":"loF","date":"2023-04-16","temp":46.9,"part":2},
      {"city":"Beijing","kind":"loF","date":"2023-05-01","temp":53.3,"part":2},
      {"city":"Beijing","kind":"loF","date":"2023-05-16","temp":59.0,"part":2},
      {"city":"Beijing","kind":"loF","date":"2023-06-01","temp":64.7,"part":2},
      {"city":"Beijing","kind":"loF","date":"2023-06-16","temp":69.0,"part":2},
      {"city":"Beijing","kind":"loF","date":"2023-07-01","temp":71.9,"part":2},
      {"city":"Beijing","kind":"loF","date":"2023-07-10","temp":72.9,"part":2},
      {"city":"Beijing","kind":"loF","date":"2023-07-16","temp":73.4,"part":2},
      {"city":"Beijing","kind":"loF","date":"2023-07-20","temp":73.7,"part":2},
      {"city":"Beijing","kind":"loF","date":"2023-07-31","temp":73.7,"part":3},
      {"city":"Beijing","kind":"loF","date":"2023-08-16","temp":71.0,"part":3},
      {"city":"Beijing","kind":"loF","date":"2023-09-01","temp":66.0,"part":3},
      {"city":"Beijing","kind":"loF","date":"2023-09-16","temp":61.0,"part":3},
      {"city":"Beijing","kind":"loF","date":"2023-10-01","temp":54.9,"part":3},
      {"city":"Beijing","kind":"loF","date":"2023-10-16","temp":47.6,"part":3},
      {"city":"Beijing","kind":"loF","date":"2023-11-01","temp":37.9,"part":3},
      {"city":"Beijing","kind":"loF","date":"2023-11-16","temp":27.5,"part":3},
      {"city":"Beijing","kind":"loF","date":"2023-12-01","temp":19.3,"part":3},
      {"city":"Beijing","kind":"loF","date":"2023-12-16","temp":13.0,"part":3},
      {"city":"Beijing","kind":"loF","date":"2023-12-31","temp":9.8,"part":3}
    ],
    "labels": [
      {"city":"Guangzhou","date":"2023-01-25","temp":64.6,"label":"64"},
      {"city":"Guangzhou","date":"2023-01-13","temp":51.0,"label":"51"},
      {"city":"Guangzhou","date":"2023-07-04","temp":85.0,"label":"85"},
      {"city":"Guangzhou","date":"2023-07-07","temp":79.6,"label":"80"},
      {"city":"Shanghai","date":"2023-01-19","temp":45.3,"label":"45"},
      {"city":"Shanghai","date":"2023-01-19","temp":34.4,"label":"35"},
      {"city":"Shanghai","date":"2023-01-19","temp":26.9,"label":"27"},
      {"city":"Shanghai","date":"2023-07-28","temp":103.0,"label":"103"},
      {"city":"Shanghai","date":"2023-07-28","temp":90.0,"label":"90"},
      {"city":"Shanghai","date":"2023-07-30","temp":84.6,"label":"85"},
      {"city":"Shanghai","date":"2023-07-30","temp":79.4,"label":"79"},
      {"city":"Xi'an","date":"2023-01-09","temp":41.2,"label":"41"},
      {"city":"Xi'an","date":"2023-01-09","temp":25.4,"label":"25"},
      {"city":"Xi'an","date":"2023-01-10","temp":21.1,"label":"21"},
      {"city":"Beijing","date":"2023-01-08","temp":34.4,"label":"34"},
      {"city":"Beijing","date":"2023-01-08","temp":29.5,"label":"29"},
      {"city":"Beijing","date":"2023-01-11","temp":17.4,"label":"17"},
      {"city":"Beijing","date":"2023-01-13","temp":8.2,"label":"8"},
      {"city":"Beijing","date":"2023-07-28","temp":94.2,"label":"94"},
      {"city":"Beijing","date":"2023-07-16","temp":88.1,"label":"88"},
      {"city":"Beijing","date":"2023-07-25","temp":73.1,"label":"73"}
    ],
    "names": [
      {"city":"Guangzhou","date":"2023-12-02","temp":80.9,"label":"Guangzhou"},
      {"city":"Shanghai","date":"2023-12-10","temp":62.5,"label":"Shanghai"},
      {"city":"Beijing","date":"2023-11-19","temp":22.9,"label":"Beijing"},
      {"city":"Xi'an","date":"2023-06-08","temp":61.2,"label":"Xi’an"}
    ]
  },
  "encoding": {
    "x": {
      "field": "date",
      "type": "temporal",
      "scale": {"type": "utc", "domain": [1672258176000, 1704214080000]},
      "axis": {
        "title": null,
        "values": [1672531200000, 1675209600000, 1677628800000, 1680307200000, 1682899200000, 1685577600000, 1688169600000, 1690848000000, 1693526400000, 1696118400000, 1698796800000, 1701388800000],
        "labelExpr": "utcFormat(datum.value, '%b')",
        "labelFontSize": 28,
        "labelColor": "#222222",
        "labelOffset": 47,
        "labelPadding": -2,
        "ticks": false,
        "tickSize": 0,
        "domain": false,
        "grid": true,
        "gridColor": {"condition": {"test": "utcmonth(datum.value) === 0", "value": "rgba(0,0,0,0)"}, "value": "#dcdcdc"},
        "gridWidth": 1,
        "labelFlush": false,
        "labelOverlap": false,
        "labelBound": false
      }
    }
  },
  "layer": [
    {
      "data": {"name": "temps"},
      "transform": [
        {"filter": "datum.kind === 'hi' || datum.kind === 'lo'"},
        {"pivot": "kind", "value": "temp", "groupby": ["city", "date"]},
        {"filter": "isValid(datum.hi) && isValid(datum.lo)"}
      ],
      "mark": {"type": "area", "interpolate": "monotone", "fillOpacity": 0.06},
      "encoding": {
        "y": {
          "field": "hi", "type": "quantitative",
          "scale": {"domain": [-1.18, 112], "nice": false, "zero": false},
          "axis": {
            "orient": "left", "title": null,
            "values": [10, 20, 30, 40, 50, 60, 70, 80, 90, 100, 110],
            "labelExpr": "datum.value + '°F'",
            "labelFontSize": 28, "labelColor": "#666666", "labelPadding": 6,
            "ticks": false, "domain": false, "grid": true, "gridColor": "#e6e6e6", "gridWidth": 1
          }
        },
        "y2": {"field": "lo"},
        "color": {"field": "city", "type": "nominal", "scale": {"domain": ["Guangzhou", "Shanghai", "Xi'an", "Beijing"], "range": ["#e8212b", "#0c9c5c", "#1467f2", "#5d2f92"]}, "legend": null}
      }
    },
    {
      "data": {"values": [{"date": "2023-01-01", "end": "2023-12-31"}]},
      "mark": {"type": "rule", "color": "#a0a0a0", "strokeWidth": 1},
      "encoding": {
        "x2": {"field": "end"},
        "y": {"datum": 32, "type": "quantitative", "scale": {"domain": [-1.18, 112], "nice": false, "zero": false}, "axis": null}
      }
    },
    {
      "data": {"name": "temps"},
      "transform": [{"filter": "datum.kind === 'hiF' || datum.kind === 'loF'"}],
      "mark": {"type": "line", "interpolate": "monotone", "strokeWidth": 2, "strokeDash": [2, 3.5], "strokeCap": "butt"},
      "encoding": {
        "y": {"field": "temp", "type": "quantitative", "scale": {"domain": [-1.18, 112], "nice": false, "zero": false}, "axis": null},
        "color": {"field": "city", "type": "nominal", "scale": {"domain": ["Guangzhou", "Shanghai", "Xi'an", "Beijing"], "range": ["#e8212b", "#0c9c5c", "#1467f2", "#5d2f92"]}, "legend": null},
        "detail": [{"field": "kind"}, {"field": "part"}]
      }
    },
    {
      "data": {"name": "temps"},
      "transform": [{"filter": "(datum.kind === 'hi' || datum.kind === 'lo') && datum.part > 0"}],
      "mark": {"type": "line", "interpolate": "monotone", "strokeWidth": 3.6, "strokeCap": "butt"},
      "encoding": {
        "y": {
          "field": "temp", "type": "quantitative",
          "scale": {"domain": [-1.18, 112], "nice": false, "zero": false},
          "axis": {
            "orient": "right", "title": null,
            "values": [10, 20, 30, 40, 50, 60, 70, 80, 90, 100, 110],
            "labelExpr": "datum.value + '°F'",
            "labelFontSize": 28, "labelColor": "#666666", "labelPadding": 3,
            "ticks": false, "domain": false, "grid": false
          }
        },
        "color": {"field": "city", "type": "nominal", "scale": {"domain": ["Guangzhou", "Shanghai", "Xi'an", "Beijing"], "range": ["#e8212b", "#0c9c5c", "#1467f2", "#5d2f92"]}, "legend": null},
        "detail": [{"field": "kind"}, {"field": "part"}]
      }
    },
    {
      "data": {"name": "labels"},
      "mark": {"type": "text", "fontSize": 19, "align": "center", "baseline": "middle"},
      "encoding": {
        "y": {"field": "temp", "type": "quantitative", "scale": {"domain": [-1.18, 112], "nice": false, "zero": false}, "axis": null},
        "text": {"field": "label"},
        "color": {"field": "city", "type": "nominal", "scale": {"domain": ["Guangzhou", "Shanghai", "Xi'an", "Beijing"], "range": ["#e8212b", "#0c9c5c", "#1467f2", "#5d2f92"]}, "legend": null}
      }
    },
    {
      "data": {"name": "names"},
      "mark": {"type": "text", "fontSize": 29, "align": "center", "baseline": "middle"},
      "encoding": {
        "y": {"field": "temp", "type": "quantitative", "scale": {"domain": [-1.18, 112], "nice": false, "zero": false}, "axis": null},
        "text": {"field": "label"},
        "color": {"field": "city", "type": "nominal", "scale": {"domain": ["Guangzhou", "Shanghai", "Xi'an", "Beijing"], "range": ["#e8212b", "#0c9c5c", "#1467f2", "#5d2f92"]}, "legend": null}
      }
    }
  ],
  "resolve": {"axis": {"y": "independent"}}
}
